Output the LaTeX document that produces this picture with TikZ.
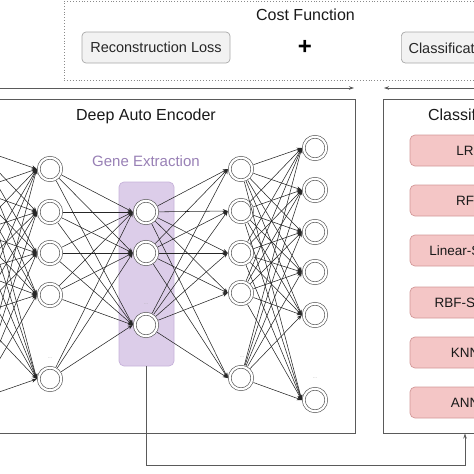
\documentclass[tikz,border=0pt]{standalone}
\usepackage{fontspec}
\setmainfont{Liberation Sans}
\usetikzlibrary{arrows.meta,calc}
\definecolor{boxline}{HTML}{5A5A5A}
\definecolor{dotline}{HTML}{8A8A8A}
\definecolor{lossfill}{HTML}{F2F2F2}
\definecolor{lossline}{HTML}{A8A8A8}
\definecolor{clsfill}{HTML}{F4C6C6}
\definecolor{clsline}{HTML}{D29898}
\definecolor{genefill}{HTML}{DCCDE9}
\definecolor{geneline}{HTML}{C6B2DA}
\definecolor{genetext}{HTML}{9880B5}
\definecolor{ringcol}{HTML}{555555}
\definecolor{conncol}{HTML}{262626}
\begin{document}
\begin{tikzpicture}[x=1pt,y=-1pt,
  neuron/.style={circle, draw=ringcol, line width=0.65pt, double=white, double distance=2.2pt,
    fill=white, minimum size=22.5pt, inner sep=0pt, outer sep=2pt},
  conn/.style={draw=conncol, line width=0.55pt, -{Stealth[length=5pt,width=4pt]}},
  flow/.style={draw=boxline, line width=0.8pt, -{Stealth[length=5pt,width=3.5pt]}},
  bigbox/.style={draw=boxline, line width=1pt, fill=none, inner sep=0pt},
  lossbox/.style={draw=lossline, fill=lossfill, line width=0.7pt, rounded corners=4pt, inner sep=0pt},
  clsbox/.style={draw=clsline, fill=clsfill, line width=0.7pt, rounded corners=5pt,
    minimum width=110pt, minimum height=31pt, inner sep=0pt, font=\fontsize{13.5}{15}\selectfont, text=black!90},
  title/.style={font=\fontsize{16}{18}\selectfont, text=black!90},
  dots/.style={font=\fontsize{5}{6}\selectfont, text=black!35}
]
\useasboundingbox (0,0) rectangle (474,474);
\clip (0,0) rectangle (474,474);

% cost function box
\node[draw=dotline, dotted, line width=0.9pt, minimum width=483pt, minimum height=79pt, inner sep=0pt] (cost) at (305.5,40.5) {};
\node[title, anchor=base] (costlbl) at (305.5,20) {Cost Function};
\node[lossbox, minimum width=148pt, minimum height=31pt, font=\fontsize{14.5}{16}\selectfont, text=black!85] (recon) at (156,47.5) {Reconstruction Loss};
\node[font=\bfseries\fontsize{24}{26}\selectfont] (plus) at (305,47.5) {+};
\node[lossbox, minimum width=160pt, minimum height=31pt, anchor=west] (clsloss) at (401,47.5) {};
\node[anchor=base west, font=\fontsize{14.5}{16}\selectfont, text=black!85] (clslosslbl) at (405,53.3) {Classification Loss};

% arrows to cost function
\coordinate (la) at (-63,88);
\coordinate (lb) at (354,88);
\coordinate (ra) at (547,88);
\coordinate (rb) at (384,88);
\draw[flow] (la) -- (lb);
\draw[flow] (ra) -- (rb);

% main boxes
\node[bigbox, minimum width=418pt, minimum height=334pt] (ae) at (146,266) {};
\node[title, anchor=base] (aelbl) at (146,120.7) {Deep Auto Encoder};
\node[bigbox, minimum width=164pt, minimum height=334pt] (cls) at (465,266) {};
\node[title, anchor=base] (clslbl) at (465,120.7) {Classifiers};

% classifier items
\node[clsbox] (lr) at (465,150.5) {LR};
\node[clsbox] (rf) at (465,200.5) {RF};
\node[clsbox] (lsvm) at (465,250.5) {Linear-SVM};
\node[clsbox] (rsvm) at (465,302.5) {RBF-SVM};
\node[clsbox] (knn) at (465,352.5) {KNN};
\node[clsbox] (ann) at (465,402.5) {ANN};

% gene extraction
\node[draw=geneline, fill=genefill, line width=0.7pt, rounded corners=5pt, minimum width=55pt, minimum height=184pt, inner sep=0pt] (gene) at (146.5,274) {};
\node[anchor=base, font=\fontsize{15}{17}\selectfont, text=genetext] (genelbl) at (146,166.7) {Gene Extraction};

% neurons
\foreach \y [count=\i] in {148,190,232,272,315,400} \node[neuron] (a\i) at (-24,\y) {};
\foreach \y [count=\i] in {169,212,253,295,379} \node[neuron] (b\i) at (50,\y) {};
\foreach \y [count=\i] in {212,253,325} \node[neuron] (c\i) at (146,\y) {};
\foreach \y [count=\i] in {169,211,253,293,378} \node[neuron] (d\i) at (241,\y) {};
\foreach \y [count=\i] in {148,190,232,272,315,400} \node[neuron] (e\i) at (315,\y) {};

\node[dots] (db) at (50,358) {...};
\node[dots] (dc) at (146,304) {...};
\node[dots] (dd) at (242,357) {...};
\node[dots] (de) at (315,378) {...};

% connections
\foreach \i in {1,...,6} \foreach \j in {1,...,5} \draw[conn] (a\i) -- (b\j.west);
\foreach \i in {1,...,5} \foreach \j in {1,...,3} \draw[conn] (b\i) -- (c\j.west);
\foreach \i in {1,...,3} \foreach \j in {1,...,5} \draw[conn] (c\i) -- (d\j.west);
\foreach \i in {1,...,5} \foreach \j in {1,...,6} \draw[conn] (d\i) -- (e\j.west);

% gene to classifiers
\coordinate (g1) at (146.5,465);
\coordinate (g2) at (465,465);
\draw[flow] (gene.south) -- (g1) -- (g2) -- (cls.south);
\end{tikzpicture}
\end{document}
